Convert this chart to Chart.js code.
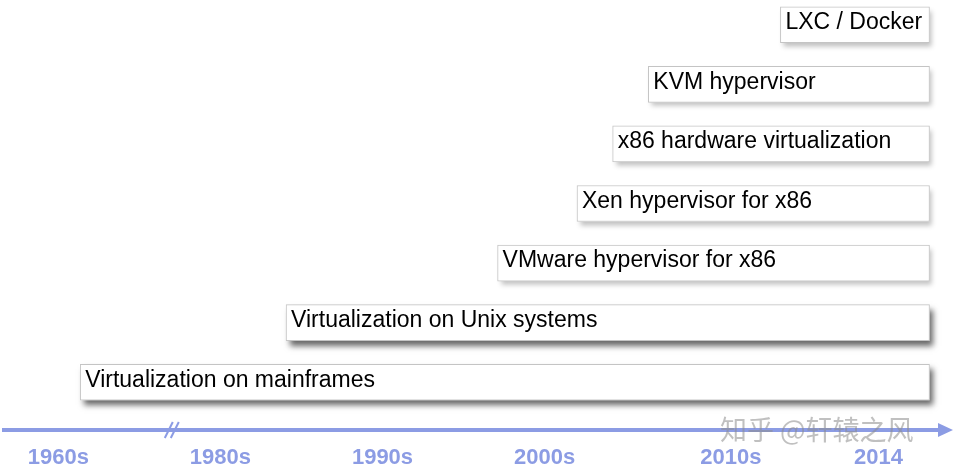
<!DOCTYPE html>
<html>
<head>
<meta charset="utf-8">
<script src="https://cdn.jsdelivr.net/npm/chart.js@4/dist/chart.umd.min.js"></script>
<style>
  html, body { margin: 0; padding: 0; background: #fff; overflow: hidden; }
  #wrap { position: absolute; left: 0; top: -5px; width: 953px; height: 477px; }
</style>
</head>
<body>
<div id="wrap"><canvas id="timeline"></canvas></div>
<script>
// Timeline data (axis units: 0 = 1960s, 1 = 1980s, 2 = 1990s, 3 = 2000s, ...)
const technologies = ['LXC / Docker', 'KVM hypervisor', 'x86 hardware virtualization',
  'Xen hypervisor for x86', 'VMware hypervisor for x86', 'Virtualization on Unix systems',
  'Virtualization on mainframes'];
const startPos = [4.455, 3.64, 3.42, 3.2, 2.71, 1.405, 0.135];
const endPos = [5.375, 5.375, 5.375, 5.375, 5.375, 5.375, 5.375];
const tickPos = [0, 1, 2, 3, 4.15, 5.06];
const tickLabels = ['1960s', '1980s', '1990s', '2000s', '2010s', '2014'];

const axisBlue = '#8c9ce4';

// shadows behind the boxes, and the box captions
const shadowPlugin = {
  id: 'shadows',
  beforeDatasetsDraw(chart) {
    const ctx = chart.ctx;
    chart.getDatasetMeta(0).data.forEach((bar, i) => {
      const left = Math.min(bar.x, bar.base), right = Math.max(bar.x, bar.base);
      const top = bar.y - bar.height / 2;
      const heavy = i >= 5;
      ctx.save();
      ctx.shadowColor = heavy ? 'rgba(0,0,0,0.6)' : 'rgba(0,0,0,0.25)';
      ctx.shadowBlur = heavy ? 6 : 5;
      ctx.shadowOffsetX = heavy ? 4 : 3;
      ctx.shadowOffsetY = heavy ? 5 : 4;
      ctx.fillStyle = '#fff';
      ctx.fillRect(left, top, right - left, bar.height);
      ctx.restore();
    });
  },
  afterDatasetsDraw(chart) {
    const ctx = chart.ctx;
    ctx.save();
    ctx.font = '23px "Liberation Sans", Arial, sans-serif';
    ctx.fillStyle = '#000';
    ctx.textBaseline = 'middle';
    chart.getDatasetMeta(0).data.forEach((bar, i) => {
      const left = Math.min(bar.x, bar.base);
      ctx.fillText(technologies[i], left + 5, bar.y - 2);
    });
    ctx.restore();
  }
};

// the arrow axis line, break mark and watermark
const axisPlugin = {
  id: 'arrowAxis',
  afterDraw(chart) {
    const ctx = chart.ctx;
    const x = chart.scales.x;
    const y = 435;
    ctx.save();
    ctx.strokeStyle = axisBlue;
    ctx.fillStyle = axisBlue;
    ctx.lineWidth = 4;
    ctx.beginPath();
    ctx.moveTo(2, y);
    ctx.lineTo(940, y);
    ctx.stroke();
    ctx.beginPath();
    ctx.moveTo(953, y);
    ctx.lineTo(938, y - 7);
    ctx.lineTo(938, y + 7);
    ctx.closePath();
    ctx.fill();
    // break mark
    const bx = x.getPixelForValue(0.7);
    ctx.lineWidth = 2;
    [-3, 3].forEach(d => {
      ctx.beginPath();
      ctx.moveTo(bx + d - 4, y + 8);
      ctx.lineTo(bx + d + 4, y - 8);
      ctx.stroke();
    });
    // watermark
    ctx.font = '27px "Noto Sans CJK SC", sans-serif';
    ctx.fillStyle = 'rgba(140,140,140,0.55)';
    ctx.textBaseline = 'middle';
    ctx.fillText('知乎 @轩辕之风', 720, y);
    ctx.restore();
  }
};

new Chart(document.getElementById('timeline'), {
  type: 'bar',
  data: {
    labels: technologies,
    datasets: [{
      data: startPos.map((s, i) => [s, endPos[i]]),
      backgroundColor: '#ffffff',
      borderColor: '#c4c4c4',
      borderWidth: 1,
      borderSkipped: false,
      barThickness: 36
    }]
  },
  options: {
    indexAxis: 'y',
    responsive: true,
    maintainAspectRatio: false,
    animation: false,
    layout: { padding: 0 },
    plugins: { legend: { display: false }, tooltip: { enabled: false } },
    scales: {
      x: {
        type: 'linear',
        min: -0.36,
        max: 5.52,
        grid: { display: false, drawTicks: false },
        border: { display: false },
        afterFit(scale) {
          scale.height = 60;
          scale.paddingLeft = 0;
          scale.paddingRight = 0;
        },
        afterBuildTicks(scale) { scale.ticks = tickPos.map(v => ({ value: v })); },
        ticks: {
          autoSkip: false,
          maxRotation: 0,
          padding: 33,
          color: axisBlue,
          font: { family: '"Liberation Sans", Arial, sans-serif', size: 22, weight: 'bold' },
          callback(value, index) { return tickLabels[index]; }
        }
      },
      y: { display: false }
    }
  },
  plugins: [shadowPlugin, axisPlugin]
});
</script>
</body>
</html>
